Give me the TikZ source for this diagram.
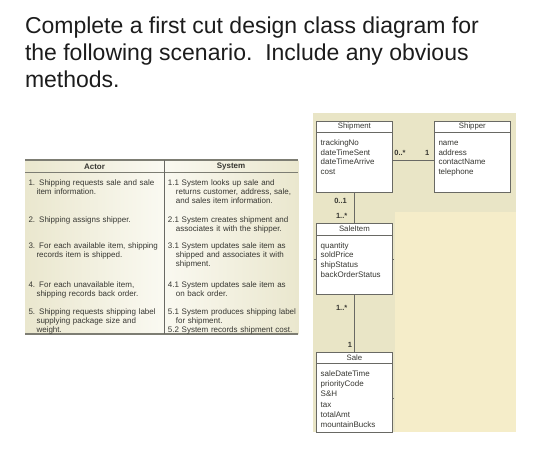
\documentclass[tikz,border=0pt]{standalone}
\usepackage{fontspec}
\setmainfont{Liberation Sans}
\usetikzlibrary{calc}

\definecolor{classbg}{RGB}{233,229,198}
\definecolor{classlight}{RGB}{245,237,201}
\definecolor{tabbeige}{RGB}{234,231,206}
\definecolor{tablight}{RGB}{250,249,241}
\definecolor{tabline}{RGB}{125,125,115}
\definecolor{boxline}{RGB}{105,105,100}
\definecolor{inktext}{RGB}{55,55,50}
\definecolor{titleink}{RGB}{28,28,28}

\newcommand\tabfont{\fontsize{8}{9}\selectfont}
\newcommand\rowtext{\noindent\strut}
\newcommand\contline{\newline\hspace*{8pt}}

\tikzset{
  classbox/.style={draw=boxline, fill=white, line width=0.8pt, minimum width=76pt,
    minimum height=70.7pt, anchor=north west, inner sep=0pt},
  classname/.style={font=\fontsize{7.8}{9}\selectfont, text=inktext, inner sep=0pt},
  attr/.style={font=\fontsize{8}{9}\selectfont, text=inktext, anchor=base west, inner sep=0pt},
  mult/.style={font=\fontsize{7.5}{9}\selectfont\bfseries, text=inktext, inner sep=0pt},
  assoc/.style={draw=boxline, line width=0.8pt},
  cell/.style={anchor=north west, inner sep=0pt, text width=140pt, align=left,
    font=\tabfont, text=inktext},
  tabrule/.style={draw=tabline, line width=1.1pt}
}

\begin{document}
\begin{tikzpicture}[x=1pt, y=-1pt]
  \useasboundingbox (0,0) rectangle (540,453);

  % Title lines
  \foreach \t [count=\i] in {Complete a first cut design class diagram for,
      the following scenario.\ \ Include any obvious, methods.} {
    \node[anchor=base west, inner sep=0pt, text=titleink,
      font=\fontsize{23}{27}\selectfont] (title\i) at (24.8, {33+27.3*(\i-1)}) {\t};
  }

  % Table of steps
  \fill[left color=tabbeige, right color=tabbeige, middle color=tablight]
    (25,160) rectangle (298.3,334);
  \draw[tabrule] (25,160) -- (298.3,160);
  \draw[tabrule, line width=0.9pt] (25,172.7) -- (298.3,172.7);
  \draw[tabrule, line width=1.4pt] (25,334) -- (298.3,334);
  \draw[draw=boxline, line width=0.8pt] (164,160) -- (164,334);

  \node[font=\tabfont\bfseries, text=inktext] (actorhead) at (94.5,166.3) {Actor};
  \node[font=\tabfont\bfseries, text=inktext] (systemhead) at (231,166.3) {System};

  \node[cell] (a1) at (28.3,178.8) {\rowtext 1. Shipping requests sale and sale\contline item information.};
  \node[cell] (s1) at (167.7,178.8) {\rowtext 1.1 System looks up sale and\contline returns customer, address, sale,\contline and sales item information.};
  \node[cell] (a2) at (28.3,215.5) {\rowtext 2. Shipping assigns shipper.};
  \node[cell] (s2) at (167.7,215.5) {\rowtext 2.1 System creates shipment and\contline associates it with the shipper.};
  \node[cell] (a3) at (28.3,242.2) {\rowtext 3. For each available item, shipping\contline records item is shipped.};
  \node[cell] (s3) at (167.7,242.2) {\rowtext 3.1 System updates sale item as\contline shipped and associates it with\contline shipment.};
  \node[cell] (a4) at (28.3,280.5) {\rowtext 4. For each unavailable item,\contline shipping records back order.};
  \node[cell] (s4) at (167.7,280.5) {\rowtext 4.1 System updates sale item as\contline on back order.};
  \node[cell] (a5) at (28.3,307.5) {\rowtext 5. Shipping requests shipping label\contline supplying package size and\contline weight.};
  \node[cell] (s5) at (167.7,307.5) {\rowtext 5.1 System produces shipping label\contline for shipment.\newline 5.2 System records shipment cost.};

  % Class diagram background
  \fill[classbg] (313,113.3) rectangle (516,432);
  \fill[classlight] (395,211.7) rectangle (516,432);

  % Class boxes
  \node[classbox] (shipment) at (316,121) {};
  \node[classbox] (shipper) at (434,121) {};
  \node[classbox] (saleitem) at (316,223.3) {};
  \node[classbox, minimum height=80.3pt] (sale) at (316,351.7) {};

  \foreach \c/\n in {shipment/Shipment, shipper/Shipper, saleitem/SaleItem, sale/Sale} {
    \draw[draw=boxline, line width=0.8pt] ([yshift=-11.7pt]\c.north west) -- ([yshift=-11.7pt]\c.north east);
    \node[classname] (\c name) at ([yshift=-5.8pt]\c.north) {\n};
  }

  % Attributes
  \foreach \a [count=\i] in {trackingNo,dateTimeSent,dateTimeArrive,cost}
    \node[attr] (shipmentattr\i) at ([xshift=4.5pt, yshift={-24.3pt-9.8pt*(\i-1)}]shipment.north west) {\a};
  \foreach \a [count=\i] in {name,address,contactName,telephone}
    \node[attr] (shipperattr\i) at ([xshift=4.3pt, yshift={-24.3pt-9.8pt*(\i-1)}]shipper.north west) {\a};
  \foreach \a [count=\i] in {quantity,soldPrice,shipStatus,backOrderStatus}
    \node[attr] (saleitemattr\i) at ([xshift=4.5pt, yshift={-24.7pt-9.8pt*(\i-1)}]saleitem.north west) {\a};
  \foreach \a [count=\i] in {saleDateTime,priorityCode,S\&H,tax,totalAmt,mountainBucks}
    \node[attr] (saleattr\i) at ([xshift=4.5pt, yshift={-24.6pt-10.3pt*(\i-1)}]sale.north west) {\a};

  % Associations
  \draw[assoc] ([yshift=-3.6pt]shipment.east) -- ([yshift=-3.6pt]shipper.west);
  \draw[assoc] (shipment.south) -- (saleitem.north);
  \draw[assoc] (saleitem.south) -- (sale.north);

  % Multiplicities
  \node[mult] (m1) at (400,152.7) {0..*};
  \node[mult] (m2) at (427.3,152.7) {1};
  \node[mult] (m3) at (340.5,200.7) {0..1};
  \node[mult] (m4) at (341.7,216) {1..*};
  \node[mult] (m5) at (341.7,308.3) {1..*};
  \node[mult] (m6) at (350,345) {1};

  % Small stubs on the box sides
  \draw[boxline, line width=1pt] (saleitem.west) -- ++(-1.6,0);
  \draw[boxline, line width=1pt] (saleitem.east) -- ++(1.6,0);
  \draw[boxline, line width=1pt] ([yshift=-6.5pt]sale.east) -- ++(1.6,0);
\end{tikzpicture}
\end{document}
